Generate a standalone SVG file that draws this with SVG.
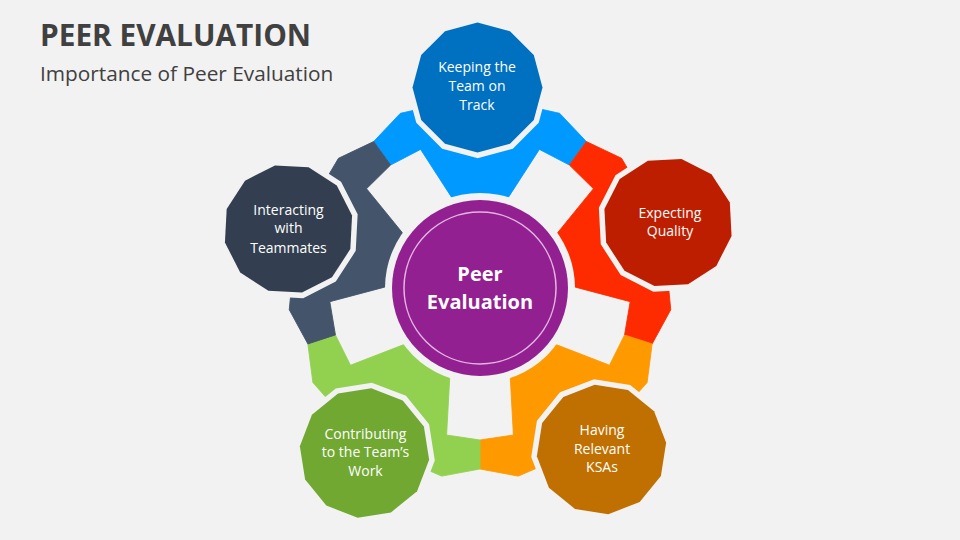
<svg xmlns="http://www.w3.org/2000/svg" xmlns:xlink="http://www.w3.org/1999/xlink" width="960" height="540" viewBox="0 0 960 540">
<defs>
<style>
.title{font-family:"Open Sans","Liberation Sans",sans-serif;font-weight:700;font-size:29.8px;fill:#404040}
.sub{font-family:"Open Sans","Liberation Sans",sans-serif;font-size:20.8px;fill:#404040}
.lbl{font-family:"Open Sans","Liberation Sans",sans-serif;font-size:14px;fill:#ffffff;text-anchor:middle}
.ctr{font-family:"Open Sans","Liberation Sans",sans-serif;font-weight:700;font-size:20px;fill:#ffffff;text-anchor:middle}
.node{stroke:#f2f2f2;stroke-width:11;paint-order:stroke;stroke-linejoin:miter}
.seg{stroke-width:0.8;stroke-linejoin:miter}
</style>
<polygon id="dodec" points="0,65 -32.5,56.29 -56.29,32.5 -65,0 -56.29,-32.5 -32.5,-56.29 0,-65 32.5,-56.29 56.29,-32.5 65,0 56.29,32.5 32.5,56.29"/>
<polygon id="seg" points="-106.4,-146.4 -79.6,-174.7 -50.4,-181.2 50.4,-181.2 79.6,-174.7 106.4,-146.4 89.3,-123.0 59.4,-138.6 28.7,-91.1 0,-75 -28.7,-91.1 -59.4,-138.6 -89.3,-123.0"/>
</defs>
<rect width="960" height="540" fill="#f2f2f2"/>
<g id="header">
<text class="title" x="40" y="45.7">PEER EVALUATION</text>
<text class="sub" x="40" y="81">Importance of Peer Evaluation</text>
</g>
<g id="connectors">
<use xlink:href="#seg" class="seg" fill="#0099ff" stroke="#0099ff" transform="translate(480,288)"/>
<use xlink:href="#seg" class="seg" fill="#ff2b00" stroke="#ff2b00" transform="translate(480,288) rotate(72)"/>
<use xlink:href="#seg" class="seg" fill="#ff9900" stroke="#ff9900" transform="translate(480,288) rotate(144)"/>
<use xlink:href="#seg" class="seg" fill="#92d050" stroke="#92d050" transform="translate(480,288) rotate(216)"/>
<use xlink:href="#seg" class="seg" fill="#44546a" stroke="#44546a" transform="translate(480,288) rotate(288)"/>
</g>
<g id="node-keeping-team-on-track">
<use xlink:href="#dodec" class="node" fill="#0070c0" transform="translate(477.5,87.5)"/>
<text class="lbl" x="477" y="72.3">Keeping the</text>
<text class="lbl" x="477" y="91">Team on</text>
<text class="lbl" x="477" y="109.5">Track</text>
</g>
<g id="node-expecting-quality">
<use xlink:href="#dodec" class="node" fill="#be1e00" transform="translate(668,222.5) rotate(72)"/>
<text class="lbl" x="670" y="217.7">Expecting</text>
<text class="lbl" x="670" y="236">Quality</text>
</g>
<g id="node-having-relevant-ksas">
<use xlink:href="#dodec" class="node" fill="#c07000" transform="translate(601.5,449.5) rotate(144)"/>
<text class="lbl" x="602" y="435">Having</text>
<text class="lbl" x="602" y="453.5">Relevant</text>
<text class="lbl" x="602" y="472">KSAs</text>
</g>
<g id="node-contributing">
<use xlink:href="#dodec" class="node" fill="#70a832" transform="translate(364.5,453) rotate(216)"/>
<text class="lbl" x="365.5" y="439">Contributing</text>
<text class="lbl" x="365.5" y="457.3">to the Team&#8217;s</text>
<text class="lbl" x="365.5" y="475.7">Work</text>
</g>
<g id="node-interacting">
<use xlink:href="#dodec" class="node" fill="#333f50" transform="translate(288.5,229) rotate(288)"/>
<text class="lbl" x="288.5" y="215">Interacting</text>
<text class="lbl" x="288.5" y="233.3">with</text>
<text class="lbl" x="288.5" y="252.7">Teammates</text>
</g>
<g id="node-peer-evaluation">
<circle cx="480" cy="288" r="95" fill="#f2f2f2"/>
<circle cx="480" cy="288" r="88" fill="#922090"/>
<circle cx="480" cy="288" r="76" fill="none" stroke="#e3b5e0" stroke-width="1.5"/>
<text class="ctr" x="480" y="280.7">Peer</text>
<text class="ctr" x="480" y="309">Evaluation</text>
</g>
</svg>
